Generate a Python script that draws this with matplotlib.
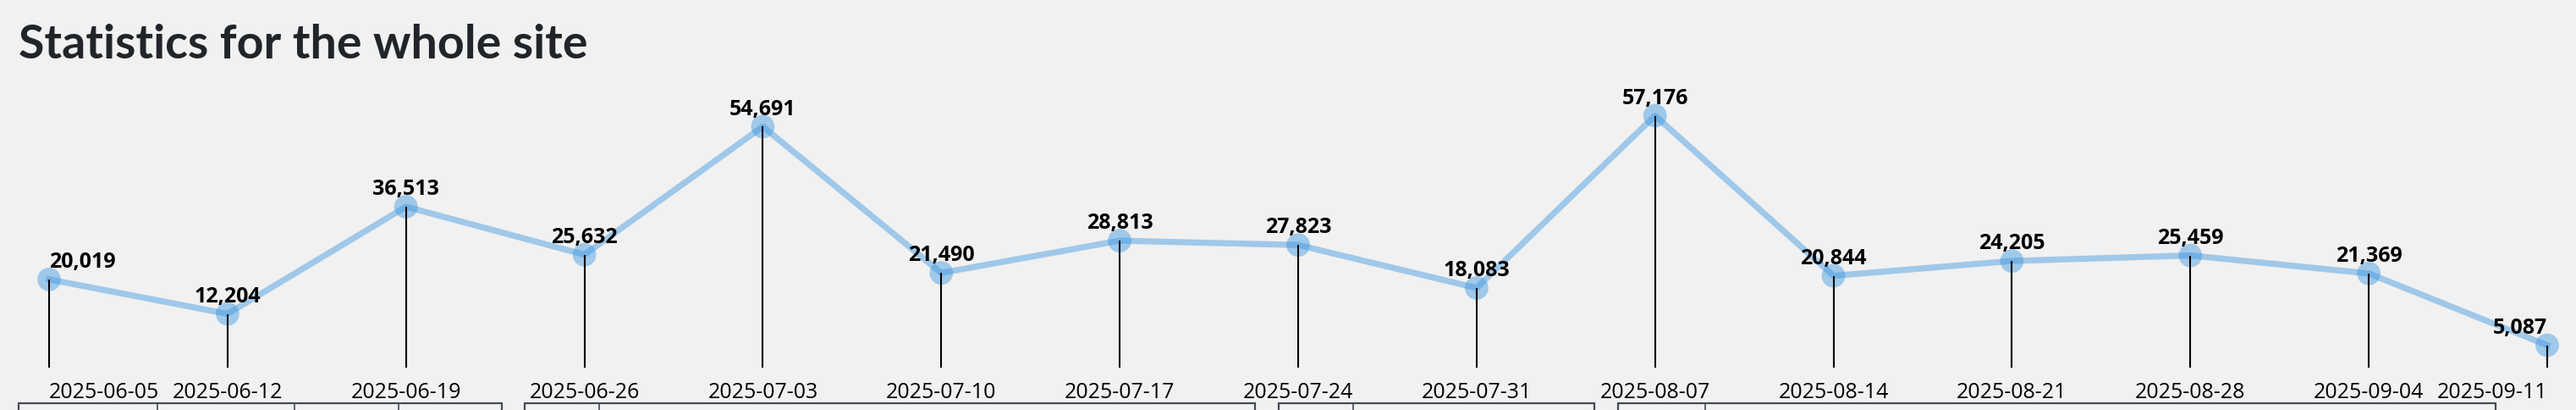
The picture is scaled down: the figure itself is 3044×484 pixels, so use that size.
import matplotlib
matplotlib.use("Agg")
import matplotlib.pyplot as plt
from matplotlib.patches import Rectangle
from matplotlib.lines import Line2D

weeks = ['2025-06-05', '2025-06-12', '2025-06-19', '2025-06-26', '2025-07-03',
         '2025-07-10', '2025-07-17', '2025-07-24', '2025-07-31', '2025-08-07',
         '2025-08-14', '2025-08-21', '2025-08-28', '2025-09-04', '2025-09-11']
views = [20019, 12204, 36513, 25632, 54691, 21490, 28813, 27823, 18083, 57176,
         20844, 24205, 25459, 21369, 5087]

W, H = 3044, 484
bg = '#f1f1f1'
blue = '#3c96e1'

fig = plt.figure(figsize=(W / 100, H / 100), dpi=100, facecolor=bg)
# plot area: x from 58px to 3010px, y=0 at 434px from top
ax = fig.add_axes([58 / W, 50 / H, (3010 - 58) / W, 334 / H])
ax.set_facecolor(bg)

x = list(range(len(views)))
ax.plot(x, views, color=blue, alpha=0.45, lw=5.2, clip_on=False, zorder=2)
ax.scatter(x, views, s=400, color=blue, alpha=0.45, edgecolors='none',
           clip_on=False, zorder=3)
ax.vlines(x, 0, views, color='black', lw=1.5, zorder=4, clip_on=False)

ax.set_xlim(0, len(views) - 1)
ax.set_ylim(0, 64200)

for i, v in enumerate(views):
    ha = 'center'
    if i == 0:
        ha = 'left'
    elif i == len(views) - 1:
        ha = 'right'
    ax.annotate(f'{v:,}', (i, v), xytext=(0, 10), textcoords='offset points',
                ha=ha, va='baseline', fontsize=18, fontweight='bold',
                family='Open Sans', color='black', zorder=5)

ax.set_xticks(x)
ax.set_xticklabels(weeks, family='Open Sans', fontsize=18)
for i, lbl in enumerate(ax.get_xticklabels()):
    if i == 0:
        lbl.set_ha('left')
    elif i == len(weeks) - 1:
        lbl.set_ha('right')
ax.tick_params(axis='x', length=0, pad=12)
ax.set_yticks([])
for s in ax.spines.values():
    s.set_visible(False)

fig.text(22 / W, 1 - 69 / H, 'Statistics for the whole site', fontsize=40,
         fontweight='bold', family='Lato', color='#212529', ha='left', va='baseline')

# cut-off table cells along the bottom edge
boxes = [(22, 593, [186, 348, 471]), (620, 1483, [708]),
         (1511, 1884, [1599]), (1912, 2949, [2015])]
edge = '#454b54'
top = 476
for x0, x1, divs in boxes:
    fig.add_artist(Rectangle((x0 / W, -0.05), (x1 - x0) / W, (H - top) / H + 0.05,
                             transform=fig.transFigure, fill=False, ec=edge, lw=1.6))
    for d in divs:
        fig.add_artist(Line2D([d / W, d / W], [0, (H - top) / H], transform=fig.transFigure,
                              color=edge, lw=1.2))

fig.savefig('out.png', dpi=100, facecolor=bg)
